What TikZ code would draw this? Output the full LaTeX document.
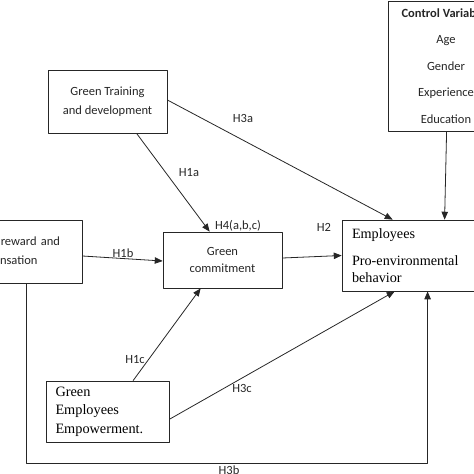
\documentclass[tikz,border=0pt]{standalone}
\usepackage{fontspec}
\setmainfont{Carlito}
\newfontfamily\timesfnt{Liberation Serif}
\usepackage{tikz}
\tikzset{>=latex}
\usetikzlibrary{shapes,arrows}
\usetikzlibrary{calc}

\begin{document}
\begin{tikzpicture}[line cap=round,line join=round,>=triangle 45,x=1pt,y=-1pt,
		box/.style={draw=black!85,line width=0.8pt,inner sep=0pt,align=center,text=black!85,font=\fontsize{12.5}{18.5}\selectfont},
		serifbox/.style={box,align=left,text=black,font=\timesfnt\fontsize{14.3}{18.7}\selectfont},
		lbl/.style={inner sep=0pt,text=black!85,font=\fontsize{12.5}{15}\selectfont},
		conn/.style={->,draw=black!85,line width=0.8pt}]
		\useasboundingbox (0,0) rectangle (474,474);
		\clip (0,0) rectangle (474,474);
		% boxes
		\node[box,minimum width=116pt,minimum height=130pt,font=\fontsize{12.5}{26.6}\selectfont] (ctrl) at (446,66) {{\bfseries Control Variables}\\Age\\Gender\\Experience\\Education};
		\node[box,minimum width=119pt,minimum height=63pt] (train) at (107.5,101.5) {Green Training\\and development};
		\node[box,align=left,text width=111pt,inner xsep=5.5pt,minimum height=63pt] (reward) at (21,251.5) {Green reward and\\compensation};
		\node[box,minimum width=119pt,minimum height=56pt,font=\fontsize{12.5}{17}\selectfont] (commit) at (222.5,260) {Green\\commitment};
		\node[serifbox,text width=115pt,inner xsep=10pt,minimum height=71pt,font=\timesfnt\fontsize{14.2}{16.6}\selectfont] (emp) at (409.5,255.5) {Employees\\[11pt]Pro-environmental\\behavior};
		\node[serifbox,text width=105pt,inner xsep=9pt,minimum height=61pt] (empow) at (108,411.5) {Green\\Employees\\Empowerment.};
		% connectors
		\draw[conn] ([yshift=1.5pt]train.east) -- ([xshift=51pt]emp.north west);
		\draw[conn] ([xshift=89pt]train.south west) -- ([xshift=47pt]commit.north west);
		\draw[conn] ([xshift=59pt]ctrl.south west) -- ([xshift=103pt]emp.north west);
		\draw[conn] ([yshift=-4.5pt]reward.east) -- ([yshift=-1pt]commit.west);
		\draw[conn] ([yshift=2pt]commit.east) -- (emp.west);
		\draw[conn] ([xshift=87pt]empow.north west) -- ([xshift=38pt]commit.south west);
		\draw[conn] ([yshift=-7.5pt]empow.east) -- ([xshift=53pt]emp.south west);
		\draw[conn] ([xshift=66.7pt]reward.south west) -- ++(0,180) -| ([xshift=86pt]emp.south west);
		% labels
		\node[lbl] (h3a) at (243,118) {H3a};
		\node[lbl] (h1a) at (189,173) {H1a};
		\node[lbl] (h4) at (238,226) {H4(a,b,c)};
		\node[lbl] (h2) at (324,227) {H2};
		\node[lbl] (h1b) at (123,253) {H1b};
		\node[lbl] (h1c) at (135,360) {H1c};
		\node[lbl] (h3c) at (242,388) {H3c};
		\node[lbl] (h3b) at (229,470) {H3b};
\end{tikzpicture}
\end{document}
